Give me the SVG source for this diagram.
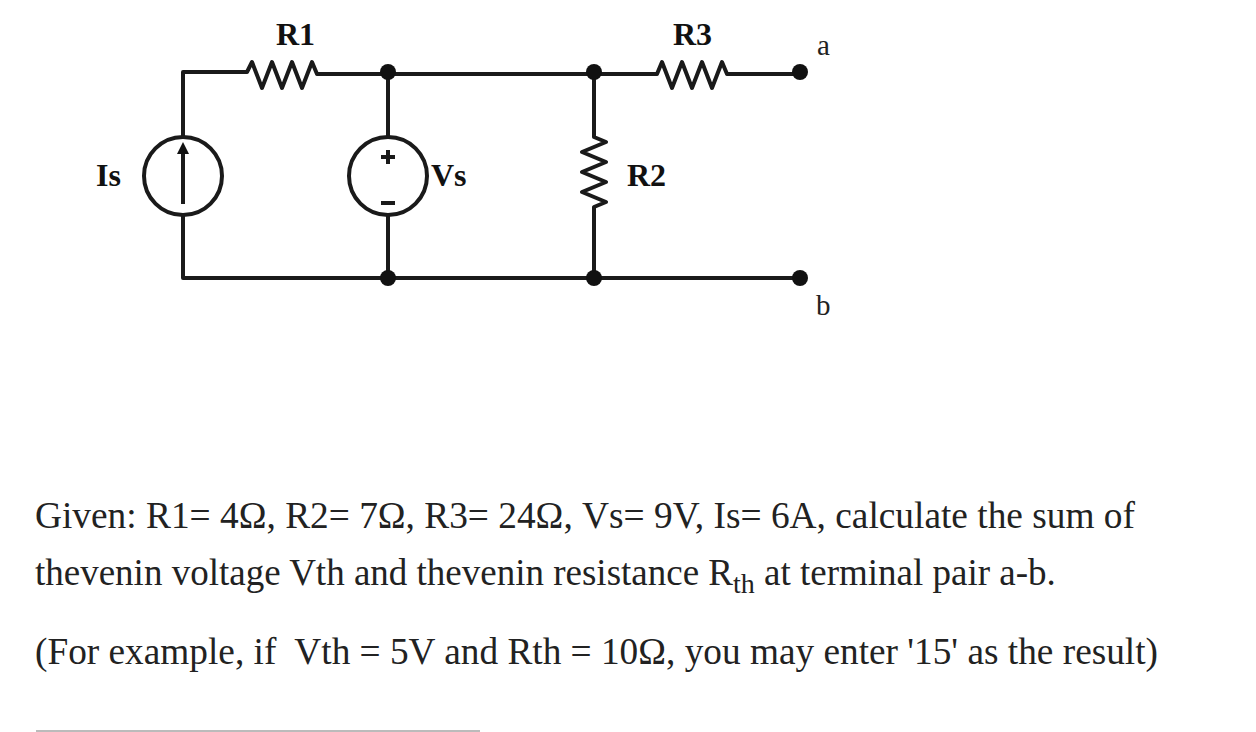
<svg xmlns="http://www.w3.org/2000/svg" width="1256" height="732" viewBox="0 0 1256 732">
<style>
.w{fill:none;stroke:#1a1a1a;stroke-width:4;stroke-linejoin:round}
.lb{font-family:"Liberation Serif",serif;font-weight:bold;font-size:32px;fill:#111}
.lt{font-family:"Liberation Serif",serif;font-size:29px;fill:#222}
.tx{font-family:"Liberation Serif",serif;font-size:37px;fill:#222}
.d{fill:#111}
</style>
<rect width="1256" height="732" fill="#fff"/>
<g id="wires">
<path class="w" d="M183 137V72H247l5 -10l10 26l10 -26l10 26l10 -26l10 26l10 -26l5 12H594H657l5 -12l10 26l10 -26l10 26l10 -26l10 26l10 -26l5 12H800"/>
<path class="w" d="M183 215V278H800"/>
<path class="w" d="M388 72V137M388 215V278"/>
<path class="w" d="M594 72V137l12 5l-24 10l24 10l-24 10l24 10l-24 10l24 10l-12 5V278"/>
</g>
<g id="Is"><circle class="w" cx="183" cy="176" r="39"/><path class="w" d="M183 204V152"/><path d="M177 154L183 142L189 154Z" class="d"/><text class="lb" x="96" y="186">Is</text></g>
<g id="Vs"><circle class="w" cx="388" cy="176" r="39"/><path class="w" d="M381 157h14M388 150v14M381 203h14"/><text class="lb" x="431" y="186">Vs</text></g>
<g id="R1"><text class="lb" x="276" y="45">R1</text></g>
<g id="R2"><text class="lb" x="627" y="186">R2</text></g>
<g id="R3"><text class="lb" x="673" y="45">R3</text></g>
<g id="nodes"><circle class="d" cx="388" cy="72" r="8"/><circle class="d" cx="594" cy="72" r="8"/><circle class="d" cx="388" cy="278" r="8"/><circle class="d" cx="594" cy="278" r="8"/><circle class="d" cx="800" cy="72" r="8"/><circle class="d" cx="800" cy="278" r="8"/></g>
<text class="lt" x="817" y="55">a</text>
<text class="lt" x="816" y="315">b</text>
<text class="tx" x="35" y="528" textLength="1100" lengthAdjust="spacingAndGlyphs">Given: R1= 4Ω, R2= 7Ω, R3= 24Ω, Vs= 9V, Is= 6A, calculate the sum of</text>
<text class="tx" x="35" y="585">thevenin voltage Vth and thevenin resistance R<tspan font-size="28" dy="8">th</tspan><tspan dy="-8"> at terminal pair a-b.</tspan></text>
<text class="tx" x="35" y="664" textLength="1123" lengthAdjust="spacingAndGlyphs" xml:space="preserve">(For example, if  Vth = 5V and Rth = 10Ω, you may enter '15' as the result)</text>
<path d="M36 731H480" stroke="#bbb" stroke-width="2"/>
</svg>
